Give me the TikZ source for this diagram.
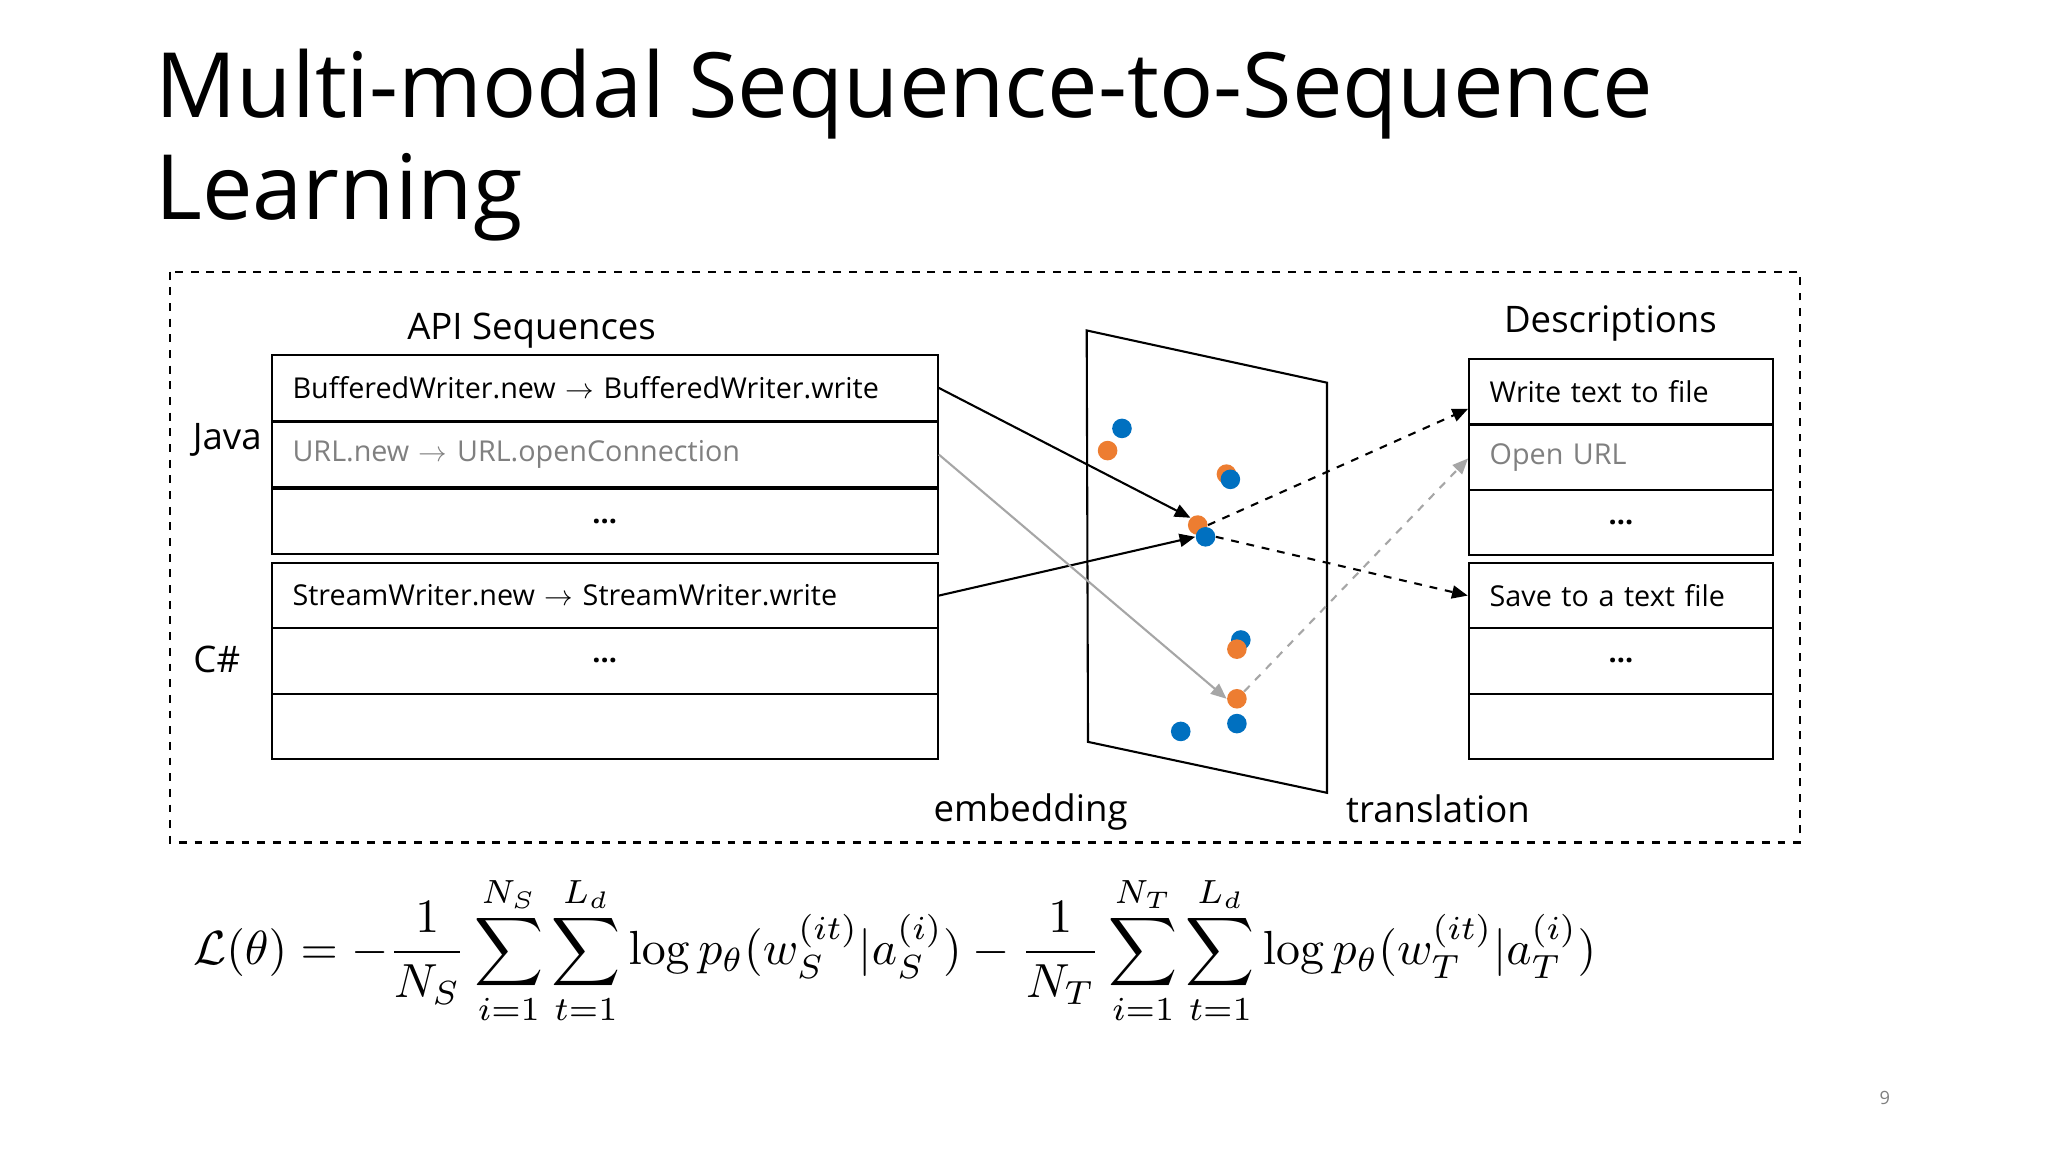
\documentclass[tikz,border=0pt]{standalone}
\usepackage{amsmath}
\usepackage[no-math]{fontspec}
\setmainfont{Open Sans}
\usetikzlibrary{arrows.meta}
\definecolor{dblue}{RGB}{0,112,192}
\definecolor{dorange}{RGB}{237,125,49}
\definecolor{lgray}{RGB}{128,128,128}
\begin{document}
\begin{tikzpicture}[x=0.5pt,y=-0.5pt,
  cell/.style={draw,thick,minimum width=255pt,minimum height=25pt,inner xsep=8pt,inner ysep=0pt,text width=239pt,font=\fontsize{11}{13}\selectfont},
  rcell/.style={draw,thick,minimum width=116.5pt,minimum height=25pt,inner xsep=8pt,inner ysep=0pt,text width=100.5pt,font=\fontsize{11}{13}\selectfont},
  lab/.style={font=\fontsize{14}{16}\selectfont},
  bdot/.style={circle,fill=dblue,inner sep=0pt,minimum size=7.5pt},
  odot/.style={circle,fill=dorange,inner sep=0pt,minimum size=7.5pt},
  arr/.style={-{Triangle[length=6pt,width=5pt]},thick},
  garr/.style={-{Triangle[length=6pt,width=5pt]},thick,lgray!70}]
\useasboundingbox (0,0) rectangle (1568,882);
\fill[white] (0,0) rectangle (1568,882);
\node[anchor=west,font=\fontsize{34.5}{39}\selectfont,align=left] (title) at (112,111) {Multi-modal Sequence-to-Sequence\\Learning};
\draw[thick,dashed] (130,208) rectangle (1378,645);
% left table
\node[cell,align=left] (l1) at (463,297) {BufferedWriter.new $\rightarrow$ BufferedWriter.write};
\node[cell,align=left,text=lgray] (l2) at (463,348) {URL.new $\rightarrow$ URL.openConnection};
\node[cell,align=center] (l3) at (463,399) {\textbf{...}};
\node[cell,align=left] (l4) at (463,456) {StreamWriter.new $\rightarrow$ StreamWriter.write};
\node[cell,align=center] (l5) at (463,506) {\textbf{...}};
\node[cell] (l6) at (463,556) {};
% right table
\node[rcell,align=left] (r1) at (1241,300) {Write text to file};
\node[rcell,align=left,text=lgray] (r2) at (1241,350) {Open URL};
\node[rcell,align=center] (r3) at (1241,400) {\textbf{...}};
\node[rcell,align=left] (r4) at (1241,456) {Save to a text file};
\node[rcell,align=center] (r5) at (1241,506) {\textbf{...}};
\node[rcell] (r6) at (1241,556) {};
\node[lab] (api) at (407,253) {API Sequences};
\node[lab] (desc) at (1233,248) {Descriptions};
\node[lab] (java) at (174,337) {Java};
\node[lab] (cs) at (166,505) {C\#};
% plane
\draw[thick] (832,253) -- (1016,293) -- (1016,607) -- (833,568) -- cycle;
\node[bdot] (b1) at (859,328) {};
\node[odot] (o1) at (848,345) {};
\node[odot] (o2) at (939,363) {};
\node[bdot] (b2) at (942,367) {};
\node[odot] (o3) at (917,402) {};
\node[bdot] (b3) at (923,411) {};
\node[bdot] (b4) at (950,490) {};
\node[odot] (o4) at (947,497) {};
\node[odot] (o5) at (947,535) {};
\node[bdot] (b5) at (947,554) {};
\node[bdot] (b6) at (904,560) {};
% arrows
\draw[arr] (l1.east) -- (o3.north west);
\draw[arr] (l4.east) -- (b3.west);
\draw[garr] (l2.east) -- (o5.west);
\draw[arr,dashed] (o3.east) -- (1124,313);
\draw[arr,dashed] (b3.east) -- (r4.west);
\draw[garr,dashed] (o5.north east) -- (1124,351);
\node[lab] (emb) at (789,622) {embedding};
\node[lab] (tr) at (1101,619) {translation};
\node (eq) at (685,728) {\resizebox{537pt}{!}{$\mathcal{L}(\theta)=-\dfrac{1}{N_S}\displaystyle\sum_{i=1}^{N_S}\sum_{t=1}^{L_d}\log p_\theta(w_S^{(it)}|a_S^{(i)})-\dfrac{1}{N_T}\sum_{i=1}^{N_T}\sum_{t=1}^{L_d}\log p_\theta(w_T^{(it)}|a_T^{(i)})$}};
\node[font=\fontsize{7}{8}\selectfont,text=lgray] (pg) at (1443,841) {9};
\end{tikzpicture}
\end{document}
